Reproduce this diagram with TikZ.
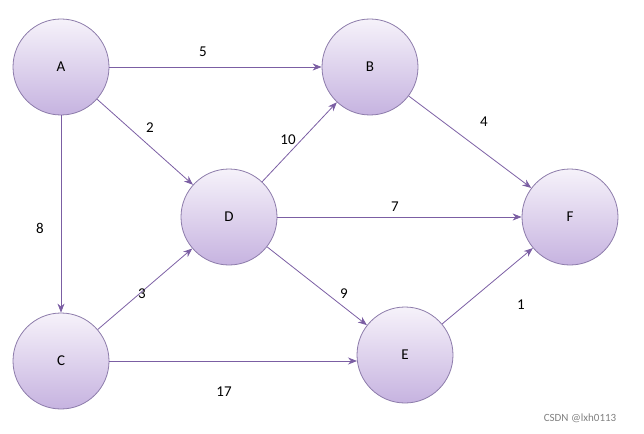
\documentclass[tikz,border=0pt]{standalone}
\usepackage{fontspec}
\setmainfont{Carlito}
\usetikzlibrary{arrows.meta}
\definecolor{bord}{HTML}{8C7BAA}
\definecolor{edge}{HTML}{7B5EA3}
\definecolor{top}{HTML}{F6F2FA}
\definecolor{bot}{HTML}{C6B3E0}
\begin{document}
\begin{tikzpicture}[x=1pt,y=-1pt,
  v/.style={circle,minimum size=96pt,draw=bord,line width=0.8pt,top color=top,bottom color=bot,font=\fontsize{15}{17}\selectfont},
  e/.style={draw=edge,line width=0.8pt,-{Stealth[length=9pt,width=7pt]}},
  lab/.style={font=\fontsize{15}{17}\selectfont}]
\useasboundingbox (0,0) rectangle (644,433);
\node[v] (A) at (61,67) {A};
\node[v] (B) at (370,67) {B};
\node[v] (D) at (229,217) {D};
\node[v] (F) at (570,217) {F};
\node[v] (C) at (61,361) {C};
\node[v] (E) at (405,355) {E};
\coordinate (Ein) at (357,361);
\draw[e] (A) -- (B);
\draw[e] (A) -- (D);
\draw[e] (A) -- (C);
\draw[e] (B) -- (F);
\draw[e] (D) -- (B);
\draw[e] (D) -- (F);
\draw[e] (D) -- (E);
\draw[e] (C) -- (Ein);
\draw[e] (C) -- (D);
\draw[e] (E) -- (F);
\node[lab] (l5) at (203,52) {5};
\node[lab] (l2) at (150,128) {2};
\node[lab] (l8) at (40,228) {8};
\node[lab] (l10) at (288,140) {10};
\node[lab] (l4) at (484,122) {4};
\node[lab] (l7) at (395,207) {7};
\node[lab] (l3) at (142,294) {3};
\node[lab] (l9) at (344,294) {9};
\node[lab] (l1) at (521,305) {1};
\node[lab] (l17) at (224,392) {17};
\node[font=\fontsize{11}{13}\selectfont,text=gray] (wm) at (580,418) {CSDN @lxh0113};
\end{tikzpicture}
\end{document}
